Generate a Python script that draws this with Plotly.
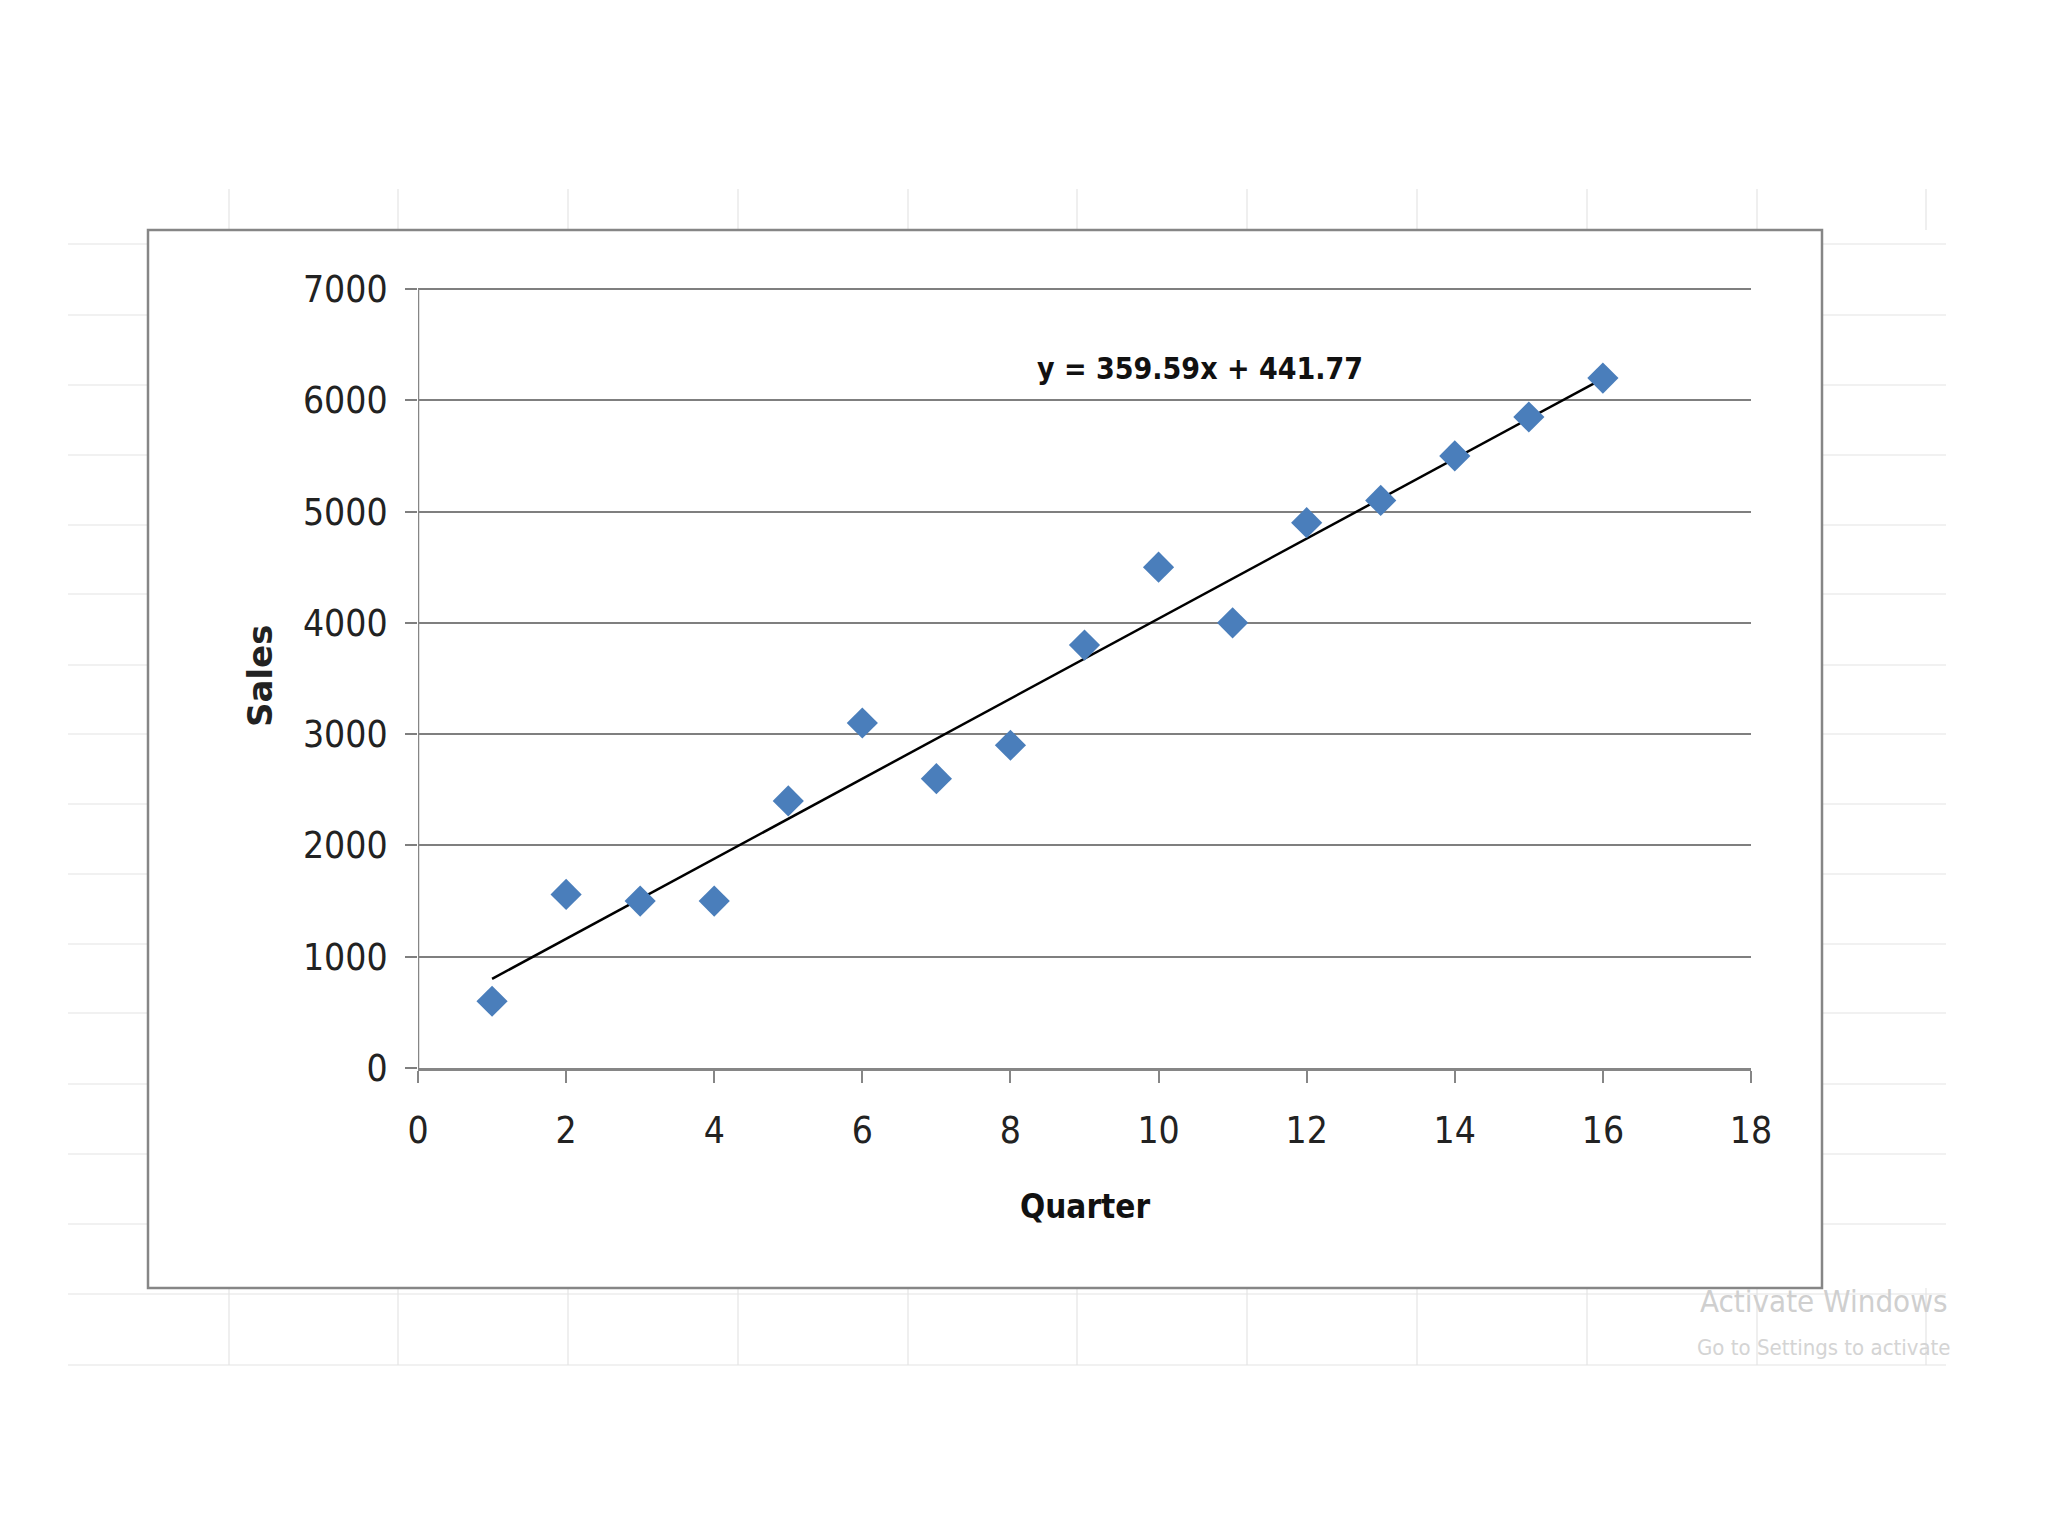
import plotly.graph_objects as go

# ---- data ----
quarters = [1, 2, 3, 4, 5, 6, 7, 8, 9, 10, 11, 12, 13, 14, 15, 16]
sales = [600, 1560, 1500, 1500, 2400, 3100, 2600, 2900, 3800, 4500, 4000, 4900, 5100, 5500, 5850, 6200]
trend_slope = 359.59
trend_intercept = 441.77
x_ticks = [0, 2, 4, 6, 8, 10, 12, 14, 16, 18]
y_ticks = [0, 1000, 2000, 3000, 4000, 5000, 6000, 7000]
equation_text = "y = 359.59x + 441.77"

# ---- layout geometry (page pixels; the page body has an 8px margin) ----
OFF = 8
W, H = 2048 - 2 * OFF, 1536 - 2 * OFF
Y_TOP_TICK = 7000
Y_MAX = 7045          # a little headroom so the 7000 gridline is drawn
L, R, B = 418, 1751, 1068
PX_PER_UNIT = (1068 - 289) / Y_TOP_TICK
T = B - PX_PER_UNIT * Y_MAX
PW = R - L
PH = B - T


def px(X):
    return (X - L) / PW


def py(Y):
    return (B - Y) / PH


FONT = "DejaVu Sans Condensed, Liberation Sans Narrow, Arial Narrow, sans-serif"

trend_x = [quarters[0], quarters[-1]]
trend_y = [trend_slope * v + trend_intercept for v in trend_x]

fig = go.Figure()
fig.add_trace(go.Scatter(
    x=trend_x, y=trend_y, mode="lines",
    line=dict(color="#000000", width=2.5), showlegend=False, hoverinfo="skip"))
fig.add_trace(go.Scatter(
    x=quarters, y=sales, mode="markers",
    marker=dict(symbol="diamond", size=24, color="#4A7EBB",
                line=dict(width=0)),
    showlegend=False))

shapes = []
faint = dict(color="#e4e4e4", width=1.2)
row_ys = [244, 315, 385, 455, 525, 594, 665, 734, 804, 874, 944, 1013, 1084, 1154, 1224]
for yy in row_ys:
    shapes.append(dict(type="line", xref="paper", yref="paper",
                       x0=px(68), x1=px(148), y0=py(yy), y1=py(yy), line=faint, layer="below"))
    shapes.append(dict(type="line", xref="paper", yref="paper",
                       x0=px(1822), x1=px(1946), y0=py(yy), y1=py(yy), line=faint, layer="below"))
for yy in [1294, 1365]:
    shapes.append(dict(type="line", xref="paper", yref="paper",
                       x0=px(68), x1=px(1946), y0=py(yy), y1=py(yy), line=faint, layer="below"))
col_xs = [229, 398, 568, 738, 908, 1077, 1247, 1417, 1587, 1757, 1926]
for xx in col_xs:
    shapes.append(dict(type="line", xref="paper", yref="paper",
                       x0=px(xx), x1=px(xx), y0=py(189), y1=py(230), line=faint, layer="below"))
    shapes.append(dict(type="line", xref="paper", yref="paper",
                       x0=px(xx), x1=px(xx), y0=py(1288), y1=py(1365), line=faint, layer="below"))
shapes.append(dict(type="rect", xref="paper", yref="paper",
                   x0=px(148), x1=px(1822), y0=py(1288), y1=py(230),
                   line=dict(color="#868686", width=2.5), fillcolor="white", layer="below"))

annotations = [
    dict(text="<b>Sales</b>", xref="paper", yref="paper", x=px(260), y=py(676),
         textangle=-90, showarrow=False, xanchor="center", yanchor="middle",
         font=dict(family="DejaVu Sans, sans-serif", size=34, color="#222222")),
    dict(text="<b>Quarter</b>", xref="paper", yref="paper", x=px(1085), y=py(1207),
         showarrow=False, xanchor="center", yanchor="middle",
         font=dict(family=FONT, size=33, color="#111111")),
    dict(text="<b>" + equation_text + "</b>", xref="paper", yref="paper", x=px(1200), y=py(368),
         showarrow=False, xanchor="center", yanchor="middle",
         font=dict(family=FONT, size=30, color="#111111")),
    dict(text="Activate Windows", xref="paper", yref="paper", x=px(1824), y=py(1301),
         showarrow=False, xanchor="center", yanchor="middle",
         font=dict(family=FONT, size=31, color="#cfcfcf")),
    dict(text="Go to Settings to activate", xref="paper", yref="paper", x=px(1824), y=py(1348),
         showarrow=False, xanchor="center", yanchor="middle",
         font=dict(family=FONT, size=22, color="#d4d4d4")),
]

fig.update_layout(
    width=W, height=H,
    margin=dict(l=L - OFF, r=W - (R - OFF), t=T - OFF, b=H - (B - OFF), autoexpand=False),
    paper_bgcolor="white", plot_bgcolor="rgba(0,0,0,0)",
    shapes=shapes, annotations=annotations,
    font=dict(family=FONT, size=37, color="#222222"),
)
fig.update_xaxes(
    range=[0, 18], tickvals=x_ticks, showgrid=False, zeroline=False,
    showline=True, linecolor="#868686", linewidth=2.5,
    ticks="outside", ticklen=12, tickwidth=2, tickcolor="#868686",
    tickfont=dict(family=FONT, size=37, color="#222222"), ticklabelstandoff=16,
)
fig.update_yaxes(
    range=[0, Y_MAX], tickvals=y_ticks, showgrid=True, gridcolor="#7f7f7f", gridwidth=2.2,
    zeroline=False, showline=False,
    ticks="outside", ticklen=12, tickwidth=2.2, tickcolor="#7f7f7f",
    tickfont=dict(family=FONT, size=37, color="#222222"), ticklabelstandoff=10,
)
# vertical axis line only spans 0..7000, as in the original
fig.add_shape(type="line", xref="x", yref="y", x0=0, x1=0, y0=0, y1=Y_TOP_TICK,
              line=dict(color="#868686", width=2.5))

fig.write_html("out.html")
